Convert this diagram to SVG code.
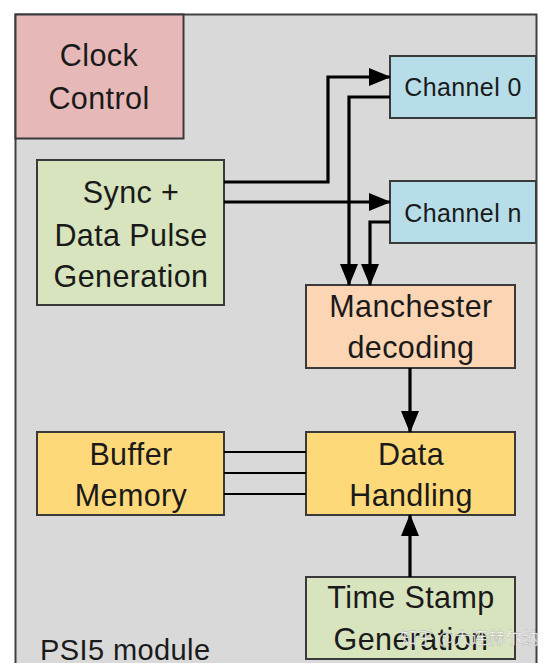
<svg xmlns="http://www.w3.org/2000/svg" width="549" height="663" viewBox="0 0 549 663">
<defs>
<marker id="ah" markerUnits="userSpaceOnUse" markerWidth="22" markerHeight="18" refX="21" refY="9" orient="auto">
<path d="M0,0 L22,9 L0,18 z" fill="#000"/>
</marker>
<style>
.box{stroke:#3a3a3a;stroke-width:2}
.t{font-family:"Liberation Sans",Arial,sans-serif;font-size:30.5px;letter-spacing:0.4px;fill:#1a1a1a;text-anchor:middle}
.tc{font-family:"Liberation Sans",Arial,sans-serif;font-size:25px;letter-spacing:0.4px;fill:#1a1a1a;text-anchor:middle}
.w{fill:none;stroke:#000;stroke-width:3.2}
.b{fill:none;stroke:#000;stroke-width:2}
</style>
</defs>
<rect width="549" height="663" fill="#fff"/>
<g id="module">
<rect x="15.5" y="14.5" width="521" height="700" fill="#d9d9d9" stroke="#404040" stroke-width="2"/>
<text x="40" y="660" style="font-family:'Liberation Sans',Arial,sans-serif;font-size:29px;letter-spacing:0.4px;fill:#1a1a1a">PSI5 module</text>
</g>
<g id="clock">
<rect class="box" x="15.5" y="14.5" width="168" height="124" fill="#e6b9b8"/>
<text class="t" x="99" y="66">Clock</text>
<text class="t" x="99" y="109">Control</text>
</g>
<g id="sync">
<rect class="box" x="37" y="160" width="187" height="145" fill="#d7e4bd"/>
<text class="t" x="131" y="203">Sync +</text>
<text class="t" x="131" y="246">Data Pulse</text>
<text class="t" x="131" y="287">Generation</text>
</g>
<g id="ch0">
<rect class="box" x="390" y="56" width="146" height="62" fill="#b7dee8"/>
<text class="tc" x="463" y="96">Channel 0</text>
</g>
<g id="chn">
<rect class="box" x="390" y="181" width="146" height="62" fill="#b7dee8"/>
<text class="tc" x="463" y="222">Channel n</text>
</g>
<g id="manchester">
<rect class="box" x="306" y="285" width="209" height="83" fill="#fcd5b5"/>
<text class="t" x="411" y="317">Manchester</text>
<text class="t" x="411" y="358">decoding</text>
</g>
<g id="buffer">
<rect class="box" x="37" y="432" width="187" height="83" fill="#fdd97a"/>
<text class="t" x="131" y="465">Buffer</text>
<text class="t" x="131" y="506">Memory</text>
</g>
<g id="datahandling">
<rect class="box" x="306" y="432" width="209" height="83" fill="#fdd97a"/>
<text class="t" x="411" y="465">Data</text>
<text class="t" x="411" y="506">Handling</text>
</g>
<g id="timestamp">
<rect class="box" x="306" y="577" width="209" height="82" fill="#d7e4bd"/>
<text class="t" x="411" y="608">Time Stamp</text>
<text class="t" x="411" y="650">Generation</text>
</g>
<g id="connectors">
<path class="w" d="M224,182 H328 V77 H390" marker-end="url(#ah)"/>
<path class="w" d="M224,202 H390" marker-end="url(#ah)"/>
<path class="w" d="M390,97 H349 V285" marker-end="url(#ah)"/>
<path class="w" d="M390,222 H370 V285" marker-end="url(#ah)"/>
<path class="w" d="M410,368 V432" marker-end="url(#ah)"/>
<path class="w" d="M410,577 V515" marker-end="url(#ah)"/>
<path class="b" d="M224,452 H306 M224,473 H306 M224,494 H306"/>
</g>
<text x="400" y="644" style="font-family:'Noto Sans CJK SC',sans-serif;font-size:17px;fill:#fff;fill-opacity:0.9;stroke:#888;stroke-width:0.4;stroke-opacity:0.6">知乎 @大连赫尔纳</text>
</svg>
